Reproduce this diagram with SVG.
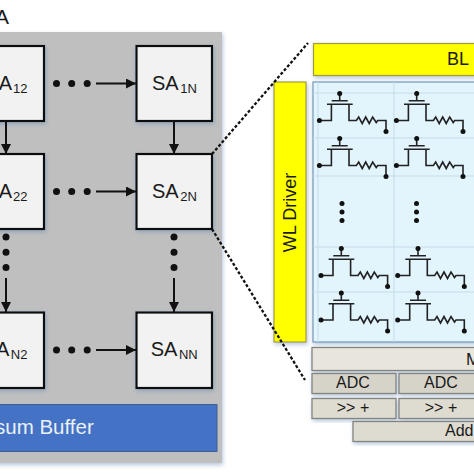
<svg xmlns="http://www.w3.org/2000/svg" xmlns:xlink="http://www.w3.org/1999/xlink" width="474" height="474" viewBox="0 0 474 474">
<style>
text{font-family:"Liberation Sans",Arial,sans-serif;fill:#1a1a1a}
.sa{fill:#f2f2f2;stroke:#111;stroke-width:2.2}
.t{font-size:20px}
.s{font-size:13px}
.y{fill:#ffff00;stroke:#a39a3c;stroke-width:1.200}
.g{fill:#d6d3c8;stroke:#84847e;stroke-width:1.300}
.g2{fill:#e8e6dc;stroke:#84847e;stroke-width:1.300}
.g3{fill:#dedbd0;stroke:#84847e;stroke-width:1.300}
.ln{stroke:#111;stroke-width:2;fill:none}
.grid{stroke:#c3dcea;stroke-width:1;fill:none}
.c{stroke:#222;stroke-width:1.600;fill:none}
.d{stroke:#111;stroke-width:2.300;stroke-dasharray:3 2;fill:none}
.m{font-size:16px;text-anchor:middle}
</style>
<defs>
<filter id="sh" x="-20%" y="-20%" width="140%" height="140%"><feDropShadow dx="1" dy="2" stdDeviation="2" flood-color="#5b82b5" flood-opacity=".45"/></filter>
<marker id="a" markerUnits="userSpaceOnUse" markerWidth="11" markerHeight="11" refX="10" refY="5" orient="auto"><path d="M0 0L10 5L0 10Z" fill="#111"/></marker>
<g id="cell">
<path class="c" d="M0 0V6.700M-8 7.300H8M-12.700 10.700H13M-8.300 10.700V27H-20.300M9.300 10.700V27H16.700L19 23.500L22.500 30L26 23.500L29.500 30L33 23.500L36.500 29L38 27H46.300V38"/>
<circle cx="0" cy="0" r="2.500" fill="#111"/><circle cx="-20.300" cy="27" r="2.500" fill="#111"/><circle cx="46.300" cy="38" r="2.500" fill="#111"/>
</g>
<g id="hd"><circle cx="0" cy="0" r="3.500" fill="#111"/><circle cx="15.200" cy="0" r="3.500" fill="#111"/><circle cx="30.700" cy="0" r="3.500" fill="#111"/></g>
<g id="vd"><circle cx="0" cy="0" r="3.500" fill="#111"/><circle cx="0" cy="15.300" r="3.500" fill="#111"/><circle cx="0" cy="30.600" r="3.500" fill="#111"/></g>
<g id="vs"><circle cx="0" cy="0" r="2.500" fill="#111"/><circle cx="0" cy="8.500" r="2.500" fill="#111"/><circle cx="0" cy="17" r="2.500" fill="#111"/></g>
</defs>
<rect width="474" height="474" fill="#fff"/>
<text x="-5" y="24" font-size="21">A</text>
<g id="panel"><rect x="-10" y="32" width="232" height="431" fill="#bfbfbf" filter="url(#sh)"/></g>
<g id="sa12"><rect class="sa" x="-31" y="46" width="75" height="75" filter="url(#sh)"/><text class="t" x="-1.300" y="89.500">A<tspan class="s" dx="1" dy="3">12</tspan></text></g>
<g id="sa1n"><rect class="sa" x="136.500" y="46" width="75.500" height="75" filter="url(#sh)"/><text class="t" x="152" y="89.500">SA<tspan class="s" dx="1.500" dy="3">1N</tspan></text></g>
<g id="sa22"><rect class="sa" x="-31" y="154" width="75" height="75" filter="url(#sh)"/><text class="t" x="-1.300" y="197.500">A<tspan class="s" dx="1" dy="3">22</tspan></text></g>
<g id="sa2n"><rect class="sa" x="136.500" y="154" width="75.500" height="75" filter="url(#sh)"/><text class="t" x="152" y="197.500">SA<tspan class="s" dx="1.500" dy="3">2N</tspan></text></g>
<g id="san2"><rect class="sa" x="-31" y="312.500" width="75" height="75.500" filter="url(#sh)"/><text class="t" x="-4" y="355.500">A<tspan class="s" dx="1.500" dy="3.500">N2</tspan></text></g>
<g id="sann"><rect class="sa" x="136.500" y="312.500" width="75.500" height="75.500" filter="url(#sh)"/><text class="t" x="150.700" y="355.500">SA<tspan class="s" dx="1.500" dy="3.500">NN</tspan></text></g>
<g id="buffer"><rect x="-10" y="404.500" width="227" height="47" fill="#4472c4" stroke="#3d5f96" stroke-width="1"/><text x="-5" y="434.300" font-size="20.500" style="fill:#eaf1f8">sum Buffer</text></g>
<g id="connectors">
<g class="ln">
<path d="M6 121V154" marker-end="url(#a)"/><path d="M174 121V154" marker-end="url(#a)"/>
<path d="M96 83.500H136" marker-end="url(#a)"/><path d="M96 191.500H136" marker-end="url(#a)"/><path d="M96 350H136" marker-end="url(#a)"/>
<path d="M6 278V312" marker-end="url(#a)"/><path d="M174 278V312" marker-end="url(#a)"/>
</g>
<use xlink:href="#hd" href="#hd" x="56.500" y="83.500"/><use xlink:href="#hd" href="#hd" x="56.500" y="191.500"/><use xlink:href="#hd" href="#hd" x="56.500" y="350"/>
<use xlink:href="#vd" href="#vd" x="6" y="237"/><use xlink:href="#vd" href="#vd" x="174" y="237"/>
</g>
<g id="bl"><rect class="y" x="313.500" y="43.500" width="170" height="32" filter="url(#sh)"/><text x="447" y="64.500" font-size="18">BL</text></g>
<g id="array">
<rect x="313" y="82" width="170" height="260" fill="#e2f5fd" stroke="#7f9fbf" stroke-width="1.300" filter="url(#sh)"/>
<path class="grid" d="M318 82V342M394 82V342M313 93H483M313 138H483M313 176H483M313 247H483M313 292H483"/>
<use xlink:href="#cell" href="#cell" x="339.700" y="93.500"/><use xlink:href="#cell" href="#cell" x="416.700" y="93.500"/>
<use xlink:href="#cell" href="#cell" x="339.700" y="138.500"/><use xlink:href="#cell" href="#cell" x="416.700" y="138.500"/>
<use xlink:href="#cell" href="#cell" x="341.300" y="248.500"/><use xlink:href="#cell" href="#cell" x="418" y="248.500"/>
<use xlink:href="#cell" href="#cell" x="341.300" y="293"/><use xlink:href="#cell" href="#cell" x="418" y="293"/>
<use xlink:href="#vs" href="#vs" x="342" y="203.500"/><use xlink:href="#vs" href="#vs" x="416.500" y="203.500"/>
</g>
<g id="wl"><rect class="y" x="274" y="82" width="32" height="260" filter="url(#sh)"/><text x="296.300" y="212.500" font-size="18" text-anchor="middle" transform="rotate(-90 296.300 212.500)">WL Driver</text></g>
<g id="mux"><rect class="g2" x="312" y="347.500" width="170" height="23" filter="url(#sh)"/><text x="466" y="364.500" font-size="17">M</text></g>
<g id="adc1"><rect class="g" x="312" y="373.500" width="84" height="20" filter="url(#sh)"/><text class="m" x="353" y="388">ADC</text></g>
<g id="adc2"><rect class="g" x="399" y="373.500" width="84" height="20" filter="url(#sh)"/><text class="m" x="441" y="388">ADC</text></g>
<g id="sh1"><rect class="g3" x="312" y="398.500" width="84" height="20" filter="url(#sh)"/><text class="m" x="353" y="413">&gt;&gt; +</text></g>
<g id="sh2"><rect class="g3" x="399" y="398.500" width="84" height="20" filter="url(#sh)"/><text class="m" x="441" y="413">&gt;&gt; +</text></g>
<g id="adder"><rect class="g3" x="353" y="421.500" width="130" height="20" filter="url(#sh)"/><text x="445" y="436" font-size="16">Add</text></g>
<g id="zoom-lines"><path class="d" d="M212 154L308 43"/><path class="d" d="M212 229L305 380"/></g>
</svg>
